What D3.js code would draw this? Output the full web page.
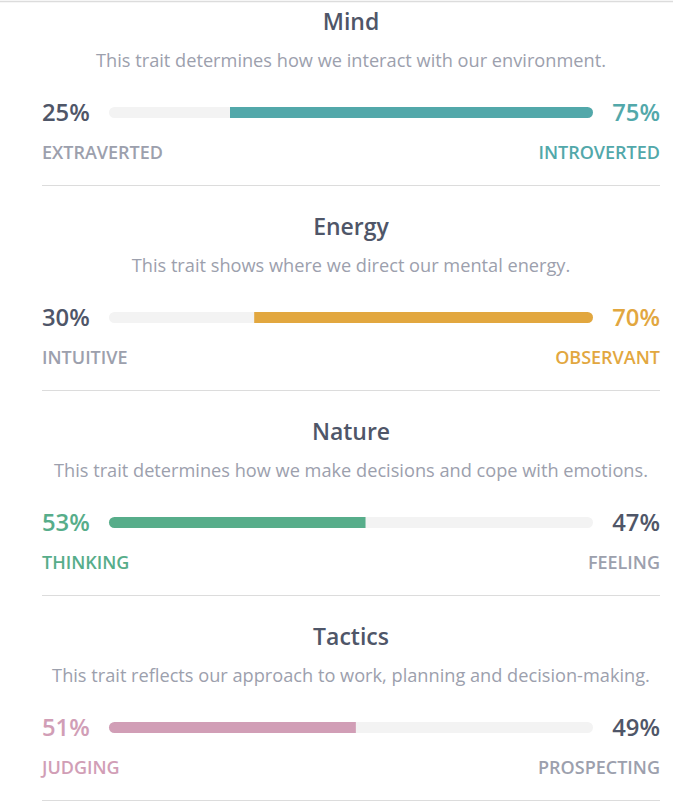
<!DOCTYPE html>
<html><head><meta charset="utf-8">
<script src="https://cdn.jsdelivr.net/npm/d3@7"></script>
<style>
html,body{margin:0;padding:0;background:#fff;}
svg{display:block;font-family:"Open Sans",sans-serif;}
</style></head>
<body>
<script>
const traits = ["Mind","Energy","Nature","Tactics"];
const descriptions = [
  "This trait determines how we interact with our environment.",
  "This trait shows where we direct our mental energy.",
  "This trait determines how we make decisions and cope with emotions.",
  "This trait reflects our approach to work, planning and decision-making."
];
const leftLabels = ["EXTRAVERTED","INTUITIVE","THINKING","JUDGING"];
const rightLabels = ["INTROVERTED","OBSERVANT","FEELING","PROSPECTING"];
const leftValues = [25,30,53,51];
const rightValues = [75,70,47,49];
const dominantSide = ["right","right","left","left"];
const colors = ["#52a8aa","#e2a73f","#57ad8a","#d19eb6"];

const W = 673, H = 807;
const svg = d3.select("body").append("svg").attr("width",W).attr("height",H);

const dark = "#4f5668", grey = "#9ca0ad", track = "#f3f3f3", rule = "#dcdcdc";

svg.append("line").attr("x1",0).attr("x2",W).attr("y1",1.5).attr("y2",1.5)
  .attr("stroke",rule).attr("stroke-width",1.5);

const sec = d3.scaleBand().domain(traits).range([0,820]).paddingInner(0);
const x = d3.scaleLinear().domain([0,100]).range([109,593]);
const barH = 11;

traits.forEach((t,i)=>{
  const y0 = sec(t);
  const g = svg.append("g").attr("transform",`translate(0,${y0})`);
  g.append("text").attr("x",351).attr("y",30).attr("text-anchor","middle")
    .attr("font-size",23).attr("font-weight",600).attr("fill",dark).text(t);
  g.append("text").attr("x",351).attr("y",66.5).attr("text-anchor","middle")
    .attr("font-size",18.2).attr("fill",grey).text(descriptions[i]);
  const by = 112.5 - barH/2;
  const r = barH/2;
  g.append("rect").attr("x",x(0)).attr("y",by).attr("width",x(100)-x(0)).attr("height",barH)
    .attr("rx",r).attr("fill",track);
  const col = colors[i];
  if (dominantSide[i]==="right") {
    const x0 = x(leftValues[i]), x1 = x(100);
    g.append("path").attr("fill",col)
      .attr("d",`M${x0},${by}H${x1-r}A${r},${r} 0 0 1 ${x1-r},${by+barH}H${x0}Z`);
  } else {
    const x0 = x(0), x1 = x(leftValues[i]);
    g.append("path").attr("fill",col)
      .attr("d",`M${x1},${by}H${x0+r}A${r},${r} 0 0 0 ${x0+r},${by+barH}H${x1}Z`);
  }
  const lc = dominantSide[i]==="left" ? col : dark;
  const rc = dominantSide[i]==="right" ? col : dark;
  const llc = dominantSide[i]==="left" ? col : grey;
  const rlc = dominantSide[i]==="right" ? col : grey;
  g.append("text").attr("x",42).attr("y",121).attr("font-size",23.8).attr("font-weight",600)
    .attr("fill",lc).text(leftValues[i]+"%");
  g.append("text").attr("x",660).attr("y",121).attr("text-anchor","end").attr("font-size",23.8).attr("font-weight",600)
    .attr("fill",rc).text(rightValues[i]+"%");
  g.append("text").attr("x",42).attr("y",159).attr("font-size",18).attr("font-weight",600)
    .attr("fill",llc).text(leftLabels[i]);
  g.append("text").attr("x",660).attr("y",159).attr("text-anchor","end").attr("font-size",18).attr("font-weight",600)
    .attr("fill",rlc).text(rightLabels[i]);
  g.append("line").attr("x1",42).attr("x2",660).attr("y1",185.5).attr("y2",185.5)
    .attr("stroke",rule).attr("stroke-width",1);
});
</script>
</body></html>
